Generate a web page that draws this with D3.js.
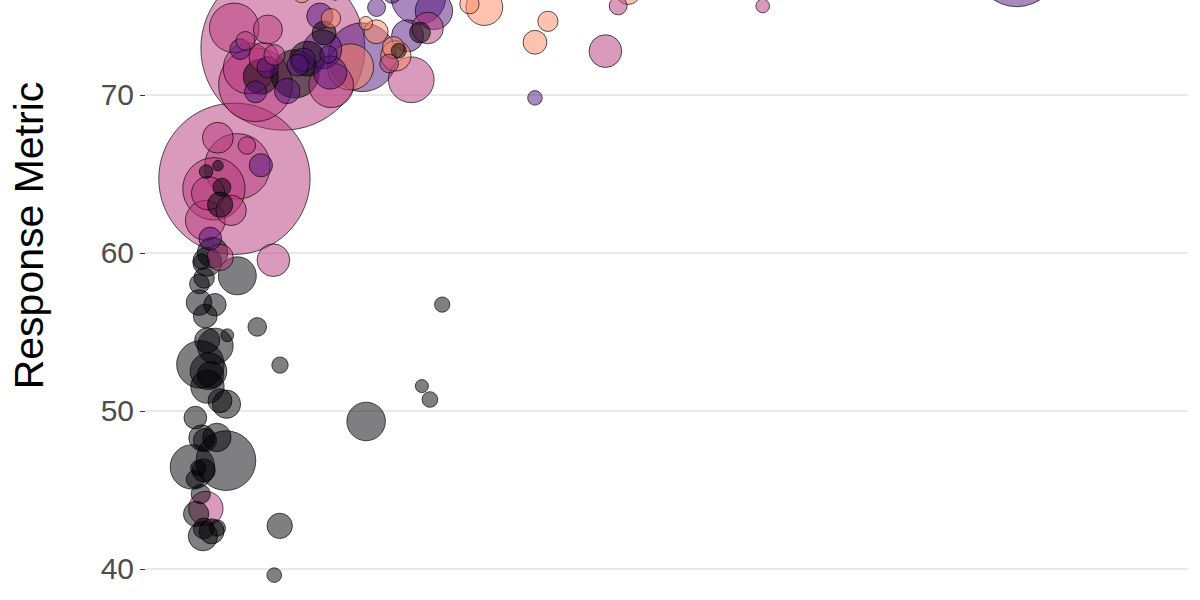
<!DOCTYPE html>
<html>
<head>
<meta charset="utf-8">
<script src="https://cdn.jsdelivr.net/npm/d3@7/dist/d3.min.js"></script>
<style>
  html, body { margin: 0; padding: 0; background: #fff; }
  svg { display: block; }
</style>
</head>
<body>
<svg id="chart" width="1200" height="600"></svg>
<script>
// ---- data (gapminder-style snapshot) ----
const countries = ["Algeria","Angola","Benin","Botswana","Burkina Faso","Burundi","Cameroon","Central African Republic","Chad","Comoros","Congo, Dem. Rep.","Congo, Rep.","Cote d'Ivoire","Djibouti","Egypt","Equatorial Guinea","Eritrea","Ethiopia","Gabon","Gambia","Ghana","Guinea","Guinea-Bissau","Kenya","Lesotho","Liberia","Libya","Madagascar","Malawi","Mali","Mauritania","Mauritius","Morocco","Mozambique","Namibia","Niger","Nigeria","Reunion","Rwanda","Sao Tome and Principe","Senegal","Sierra Leone","Somalia","South Africa","Sudan","Swaziland","Tanzania","Togo","Tunisia","Uganda","Zambia","Zimbabwe",
"Argentina","Bolivia","Brazil","Canada","Chile","Colombia","Costa Rica","Cuba","Dominican Republic","Ecuador","El Salvador","Guatemala","Haiti","Honduras","Jamaica","Mexico","Nicaragua","Panama","Paraguay","Peru","Puerto Rico","Trinidad and Tobago","United States","Uruguay","Venezuela",
"Afghanistan","Bahrain","Bangladesh","Cambodia","China","Hong Kong, China","India","Indonesia","Iran","Iraq","Israel","Japan","Jordan","Korea, Dem. Rep.","Korea, Rep.","Kuwait","Lebanon","Malaysia","Mongolia","Myanmar","Nepal","Oman","Pakistan","Philippines","Saudi Arabia","Singapore","Sri Lanka","Syria","Taiwan","Thailand","Vietnam","West Bank and Gaza","Yemen, Rep.",
"Albania","Austria","Belgium","Bosnia and Herzegovina","Bulgaria","Croatia","Czech Republic","Denmark","Finland","France","Germany","Greece","Hungary","Iceland","Ireland","Italy","Montenegro","Netherlands","Norway","Poland","Portugal","Romania","Serbia","Slovak Republic","Slovenia","Spain","Sweden","Switzerland","Turkey","United Kingdom",
"Australia","New Zealand"];

const continentCounts = [["Africa",52],["Americas",25],["Asia",33],["Europe",30],["Oceania",2]];
const continentLevels = ["Africa","Americas","Asia","Europe","Oceania"];
const continentColors = ["#000004","#51127C","#B63679","#FB8861","#FCFDBF"];

const gdpPercap = [6223.367,4797.231,1441.285,12569.85,1217.033,430.0707,2042.095,706.0165,1704.064,986.1479,277.5519,3632.558,1544.750,2082.482,5581.181,12154.09,641.3695,690.8056,13206.48,752.7497,1327.609,942.6542,579.2317,1463.249,1569.331,414.5073,12057.50,1044.770,759.3499,1042.582,1803.151,10956.99,3820.175,823.6856,4811.060,619.6769,2013.977,7670.123,863.0885,1598.435,1712.472,862.5408,926.1411,9269.658,2602.395,4513.481,1107.482,882.9699,7092.923,1056.380,1271.212,469.7093,
12779.38,3822.137,9065.801,36319.24,13171.64,7006.580,9645.061,8948.103,6025.375,6873.262,5728.354,5186.050,1201.637,3548.331,7320.880,11977.57,2749.321,9809.186,4172.838,7408.906,19328.71,18008.51,42951.65,10611.46,11415.81,
974.5803,29796.05,1391.254,1713.779,4959.115,39724.98,2452.210,3540.652,11605.71,4471.062,25523.28,31656.07,4519.461,1593.065,23348.14,47306.99,10461.06,12451.66,3095.772,944.0,1091.360,22316.19,2605.948,3190.481,21654.83,47143.18,3970.095,4184.548,28718.28,7458.396,2441.577,3025.350,2280.770,
5937.030,36126.49,33692.61,7446.299,10680.79,14619.22,22833.31,35278.42,33207.08,30470.02,32170.37,27538.41,18008.94,36180.79,40676.00,28569.72,9253.896,36797.93,49357.19,15389.92,20509.65,10808.48,9786.535,18678.31,25768.26,28821.06,33859.75,37506.42,8458.276,33203.26,
34435.37,25185.01];

const lifeExp = [72.301,42.731,56.728,50.728,52.295,49.580,50.430,44.741,50.651,65.152,46.462,55.322,48.328,54.791,71.338,51.579,58.040,52.947,56.735,59.448,60.022,56.007,46.388,54.110,42.592,45.678,73.952,59.443,48.303,54.467,64.164,72.801,71.164,42.082,52.906,56.867,46.859,76.442,46.242,65.528,63.062,42.568,48.159,49.339,58.556,39.613,52.517,58.420,73.923,51.542,42.384,43.487,
75.320,65.554,72.390,80.653,78.553,72.889,78.782,78.273,72.235,74.994,71.878,70.259,60.916,70.198,72.567,76.195,72.899,75.537,71.752,71.421,78.746,69.819,78.242,76.384,73.747,
43.828,75.635,64.062,59.723,72.961,82.208,64.698,70.650,70.964,59.545,80.745,82.603,72.535,67.297,78.623,77.588,71.993,74.241,66.803,62.069,63.785,75.640,65.483,71.688,72.777,79.972,72.396,74.143,78.400,70.616,74.249,73.422,62.698,
76.423,79.829,79.441,74.852,73.005,75.748,76.486,78.332,79.313,80.657,79.406,79.483,73.338,81.757,78.885,80.546,74.543,79.762,80.196,75.563,78.098,72.476,74.002,74.663,77.926,80.941,80.884,81.701,71.777,79.425,
81.235,80.204];

const population = [33333216,12420476,8078314,1639131,14326203,8390505,17696293,4369038,10238807,710960,64606759,3800610,18013409,496374,80264543,551201,4906585,76511887,1454867,1688359,22873338,9947814,1472041,35610177,2012649,3193942,6036914,19167654,13327079,12031795,3270065,1250882,33757175,19951656,2055080,12894865,135031164,798094,8860588,199579,12267493,6144562,9118773,43997828,42292929,1133066,38139640,5701579,10276158,29170398,11746035,12311143,
40301927,9119152,190010647,33390141,16284741,44227550,4133884,11416987,9319622,13755680,6939688,12572928,8502814,7483763,2780132,108700891,5675356,3242173,6667147,28674757,3942491,1056608,301139947,3447496,26084662,
31889923,708573,150448339,14131858,1318683096,6980412,1110396331,223547000,69453570,27499638,6426679,127467972,6053193,23301725,49044790,2505559,3921278,24821286,2874127,47761980,28901790,3204897,169270617,91077287,27601038,4553009,20378239,19314747,23174294,65068149,85262356,4018332,22211743,
3600523,8199783,10392226,4552198,7322858,4493312,10228744,5468120,5238460,61083916,82400996,10706290,9956108,301931,4109086,58147733,684736,16570613,4627926,38518241,10642836,22276056,10150265,5447502,2009245,40448191,9031088,7554661,71158647,60776238,
20434176,4115771];

const yTicks = [40, 50, 60, 70];
const yTitle = "Response Metric";

// ---- build rows ----
const continents = continentCounts.flatMap(([c, n]) => Array(n).fill(c));
const rows = countries.map((name, i) => ({
  name, continent: continents[i], gdp: gdpPercap[i], life: lifeExp[i], pop: population[i]
}));

// ---- layout ----
const W = 1200, H = 600;
const panel = { left: 145, right: 1188, top: -138.1, bottom: 609.1 };

function expand(ext, f) { const d = ext[1] - ext[0]; return [ext[0] - d * f, ext[1] + d * f]; }

const x = d3.scaleLinear()
  .domain(expand(d3.extent(gdpPercap), 0.05))
  .range([panel.left, panel.right]);
const y = d3.scaleLinear()
  .domain(expand(d3.extent(lifeExp), 0.05))
  .range([panel.bottom, panel.top]);
const color = d3.scaleOrdinal().domain(continentLevels).range(continentColors);
const popT = d3.scaleLinear().domain(d3.extent(population)).range([0, 1]);
const rLin = d3.scaleLinear().domain([0, 1]).range([5.3, 82]);
const r = p => rLin(Math.sqrt(popT(p)));

const svg = d3.select("#chart");

// grid
svg.append("g")
  .selectAll("line")
  .data(yTicks)
  .join("line")
  .attr("x1", panel.left).attr("x2", panel.right)
  .attr("y1", d => y(d)).attr("y2", d => y(d))
  .attr("stroke", "#d4d4d4").attr("stroke-width", 1);

// axis
const axis = svg.append("g")
  .attr("transform", `translate(${panel.left},0)`)
  .call(d3.axisLeft(y).tickValues(yTicks).tickSize(5).tickPadding(6).tickFormat(d3.format("d")));
axis.select(".domain").remove();
axis.selectAll(".tick line").attr("stroke", "#333333").attr("stroke-width", 1);
axis.selectAll(".tick text")
  .attr("fill", "#4D4D4D")
  .style("font-family", "'Liberation Sans', Arial, sans-serif")
  .style("font-size", "30px");

// title
svg.append("text")
  .attr("transform", `translate(43,${(panel.top + panel.bottom) / 2}) rotate(-90)`)
  .attr("text-anchor", "middle")
  .style("font-family", "'Liberation Sans', Arial, sans-serif")
  .style("font-size", "41px")
  .attr("fill", "#000")
  .text(yTitle);

// bubbles
const sorted = rows.slice().sort((a, b) => b.pop - a.pop);
svg.append("g")
  .selectAll("circle")
  .data(sorted)
  .join("circle")
  .attr("cx", d => x(d.gdp))
  .attr("cy", d => y(d.life))
  .attr("r", d => r(d.pop))
  .attr("fill", d => color(d.continent))
  .attr("fill-opacity", 0.5)
  .attr("stroke", "#000")
  .attr("stroke-opacity", 0.65)
  .attr("stroke-width", 1);
</script>
</body>
</html>
